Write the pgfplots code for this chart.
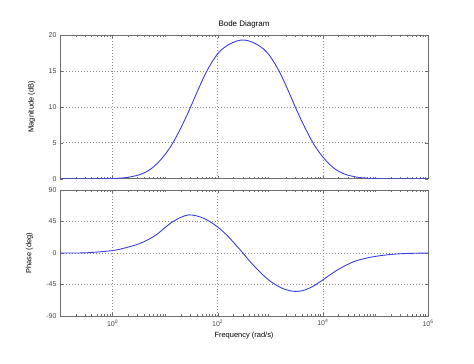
\documentclass[border=0pt]{standalone}
\usepackage{pgfplots}
\pgfplotsset{compat=1.18}
\usepackage{fontspec}
\setmainfont{Liberation Sans}
\definecolor{axgray}{RGB}{110,110,110}
\definecolor{txtgray}{RGB}{70,70,70}
\definecolor{gridgray}{RGB}{140,140,140}
\definecolor{linecol}{RGB}{60,60,225}
\pgfplotstableread{
w mag
0.1 0
0.759 0
1.202 0.05
1.905 0.18
3.020 0.48
3.802 0.75
4.786 1.12
6.026 1.65
7.586 2.35
9.550 3.2
12.02 4.2
15.14 5.4
19.05 6.8
23.99 8.3
30.20 9.9
38.02 11.6
47.86 13.25
60.26 14.8
75.86 16.1
95.50 17.2
120.2 18.0
169.8 18.75
239.9 19.2
302.0 19.3
380.2 19.2
537.0 18.75
758.6 18.0
955.0 17.2
1202 16.1
1514 14.8
1905 13.25
2399 11.6
3020 9.9
3802 8.3
4786 6.8
6026 5.4
7586 4.2
9550 3.2
12023 2.35
15136 1.65
19055 1.12
23988 0.75
30200 0.48
47863 0.18
75858 0.05
120226 0
1000000 0
}\magtab
\pgfplotstableread{
w ph
0.1 0
0.3162 0.3
1 3.5
1.778 7.5
3.162 13
5.012 20
7.079 27
10 36.5
14.13 45
19.95 51
28.18 54.5
39.81 53
56.23 49
79.43 42.5
112.2 34
158.5 23.5
223.9 11
302.0 0
398.1 -11
562.3 -23
794.3 -34
1122 -43
1585 -49.5
2239 -53.5
3162 -55
4467 -53
6310 -48
8913 -41
12589 -33
17783 -25.5
25119 -19
39811 -12
63096 -7.8
100000 -4.8
199526 -2
398107 -0.7
1000000 0
}\phtab
\begin{document}
\begin{tikzpicture}[x=1bp,y=1bp]
\path[use as bounding box] (0,0) rectangle (474,363);
\begin{axis}[
  xmode=log, scale only axis, width=368bp,
  xmin=0.1, xmax=1e6,
  xtick={1,100,10000,1000000},
  minor xtick={0.2,0.3,0.4,0.5,0.6,0.7,0.8,0.9,2,3,4,5,6,7,8,9,10,20,30,40,50,60,70,80,90,200,300,400,500,600,700,800,900,2000,3000,4000,5000,6000,7000,8000,9000,20000,30000,40000,50000,60000,70000,80000,90000,100000,200000,300000,400000,500000,600000,700000,800000,900000},
  tick align=inside, tick pos=both,
  major tick length=3bp, minor tick length=1.8bp,
  xmajorgrids, ymajorgrids,
  major grid style={gridgray, dash pattern=on 0.6pt off 2.4pt, line width=0.6pt},
  axis line style={axgray, line width=0.7pt},
  tick style={axgray, line width=0.4pt},
  tick label style={font=\fontsize{7}{8}\selectfont, text=txtgray},
  label style={font=\fontsize{7.5}{8}\selectfont, text=black},
  at={(60bp,184.3bp)}, anchor=south west,
  height=143.7bp,
  ymin=0, ymax=20, ytick={0,5,10,15,20},
  yticklabels={0,5,10,15,20},
  xticklabels={},
  ylabel={Magnitude (dB)},
  ylabel style={at={(axis description cs:-0.058,0.5)}, anchor=south},
  title={Bode Diagram},
  title style={font=\fontsize{8}{9}\selectfont, yshift=-3bp},
]
\addplot[linecol, line width=0.9pt, no marks, smooth, tension=0.5] table[x=w,y=mag] {\magtab};
\end{axis}
\begin{axis}[
  xmode=log, scale only axis, width=368bp,
  xmin=0.1, xmax=1e6,
  xtick={1,100,10000,1000000},
  xticklabels={10\textsuperscript{0},10\textsuperscript{2},10\textsuperscript{4},10\textsuperscript{6}},
  minor xtick={0.2,0.3,0.4,0.5,0.6,0.7,0.8,0.9,2,3,4,5,6,7,8,9,10,20,30,40,50,60,70,80,90,200,300,400,500,600,700,800,900,2000,3000,4000,5000,6000,7000,8000,9000,20000,30000,40000,50000,60000,70000,80000,90000,100000,200000,300000,400000,500000,600000,700000,800000,900000},
  tick align=inside, tick pos=both,
  major tick length=3bp, minor tick length=1.8bp,
  xmajorgrids, ymajorgrids,
  major grid style={gridgray, dash pattern=on 0.6pt off 2.4pt, line width=0.6pt},
  axis line style={axgray, line width=0.7pt},
  tick style={axgray, line width=0.4pt},
  tick label style={font=\fontsize{7}{8}\selectfont, text=txtgray},
  label style={font=\fontsize{7.5}{8}\selectfont, text=black},
  at={(60bp,47bp)}, anchor=south west,
  height=126bp,
  ymin=-90, ymax=90, ytick={-90,-45,0,45,90},
  yticklabels={-90,-45,0,45,90},
  xlabel={Frequency (rad/s)},
  ylabel={Phase (deg)},
  ylabel style={at={(axis description cs:-0.064,0.5)}, anchor=south},
  xlabel style={yshift=1bp},
]
\addplot[linecol, line width=0.9pt, no marks, smooth, tension=0.5] table[x=w,y=ph] {\phtab};
\end{axis}
\end{tikzpicture}
\end{document}
